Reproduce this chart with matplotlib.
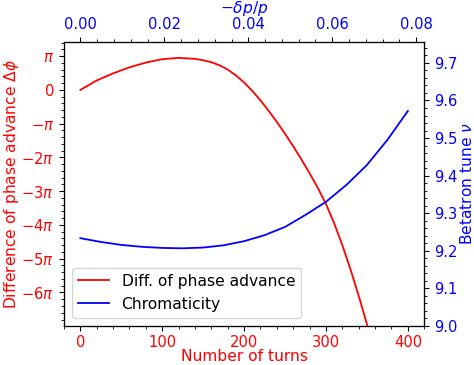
import numpy as np
import matplotlib
matplotlib.use("Agg")
import matplotlib.pyplot as plt
from matplotlib.ticker import MultipleLocator, AutoMinorLocator, FuncFormatter

# red curve: difference of phase advance (in units of pi) vs turns
turns_phase = [0, 20, 40, 60, 80, 100, 120, 140, 150, 160, 170, 180, 190, 200, 210,
               220, 230, 240, 250, 260, 270, 280, 290, 300, 310, 320, 330, 340, 350, 360]
phase_pi = [0.0, 0.28, 0.49, 0.67, 0.81, 0.91, 0.95, 0.92, 0.88, 0.82, 0.73, 0.60,
            0.43, 0.22, -0.03, -0.31, -0.62, -0.95, -1.30, -1.67, -2.06, -2.47,
            -2.90, -3.38, -3.95, -4.60, -5.32, -6.10, -6.94, -7.84]

# blue curve: betatron tune vs turns
turns_tune = [0, 25, 50, 75, 100, 125, 150, 175, 200, 225, 250, 275, 300, 325, 350, 375, 400]
tune = [9.233, 9.223, 9.215, 9.210, 9.207, 9.206, 9.208, 9.214, 9.225, 9.241, 9.263,
        9.295, 9.330, 9.375, 9.428, 9.495, 9.572]

# momentum deviation reached at the last turn
dpp_end = 0.078
turns_end = 400

fs_tick = 10.6
fs_lab = 11.2

fig = plt.figure(figsize=(4.74, 3.65), dpi=100)
ax = fig.add_axes([0.135, 0.108, 0.76, 0.777])

l1, = ax.plot(turns_phase, np.array(phase_pi) * np.pi, color="red", lw=1.3,
              label="Diff. of phase advance")
ax.set_xlim(-20, 420)
ax.set_ylim(-6.98 * np.pi, 1.42 * np.pi)
ax.yaxis.set_major_locator(MultipleLocator(np.pi))
ax.yaxis.set_minor_locator(AutoMinorLocator(5))
ax.xaxis.set_minor_locator(AutoMinorLocator(5))

def pi_fmt(v, pos):
    n = int(round(v / np.pi))
    if n == 0:
        return "0"
    if n == 1:
        return r"$\pi$"
    if n == -1:
        return r"$-\pi$"
    return r"$%d\pi$" % n

ax.yaxis.set_major_formatter(FuncFormatter(pi_fmt))
ax.set_xlabel("Number of turns", color="red", fontsize=fs_lab, labelpad=-1)
ax.set_ylabel(r"Difference of phase advance $\Delta\phi$", color="red",
              fontsize=fs_lab, labelpad=0)
ax.tick_params(axis="both", labelcolor="red", labelsize=fs_tick)

ax2 = ax.twinx()
l2, = ax2.plot(turns_tune, tune, color="blue", lw=1.3, label="Chromaticity")
ax2.set_ylim(9.0, 9.756)
ax2.yaxis.set_major_locator(MultipleLocator(0.1))
ax2.yaxis.set_minor_locator(AutoMinorLocator(5))
ax2.yaxis.set_major_formatter(FuncFormatter(lambda v, p: "%.1f" % v))
ax2.set_ylabel(r"Betatron tune $\nu$", color="blue", fontsize=fs_lab, labelpad=1)
ax2.tick_params(axis="y", labelcolor="blue", labelsize=fs_tick)

ax3 = ax.twiny()
x0, x1 = ax.get_xlim()
ax3.set_xlim(x0 * dpp_end / turns_end, x1 * dpp_end / turns_end)
ax3.xaxis.set_major_locator(MultipleLocator(0.02))
ax3.xaxis.set_minor_locator(AutoMinorLocator(5))
ax3.xaxis.set_major_formatter(FuncFormatter(lambda v, p: "%.2f" % v))
ax3.set_xlabel(r"$-\delta p/p$", color="blue", fontsize=fs_lab, labelpad=3)
ax3.tick_params(axis="x", labelcolor="blue", labelsize=fs_tick)

ax.legend(handles=[l1, l2], loc="lower left", fontsize=fs_lab, handlelength=2.0)

fig.savefig("out.png", dpi=100)
